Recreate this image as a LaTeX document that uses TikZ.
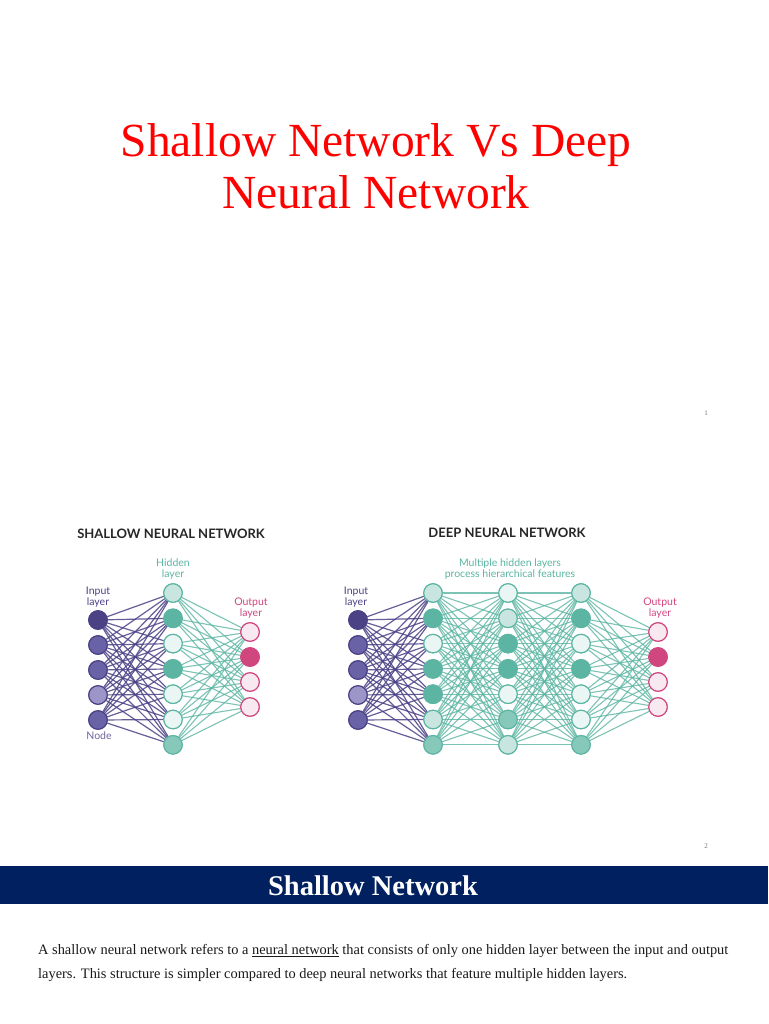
\documentclass[tikz,border=0pt]{standalone}
\usepackage{fontspec}
\setmainfont{Liberation Serif}
\newfontfamily\lab{Lato}
\begin{document}
\begin{tikzpicture}[x=1pt,y=-1pt]
\definecolor{pdark}{HTML}{4B4286}
\definecolor{pmid}{HTML}{6A62A6}
\definecolor{plight}{HTML}{9C96C8}
\definecolor{tmain}{HTML}{5BB5A2}
\definecolor{tmid}{HTML}{86C9BA}
\definecolor{tlight}{HTML}{C8E6DF}
\definecolor{tpale}{HTML}{EAF6F3}
\definecolor{pink}{HTML}{D0467F}
\definecolor{pinkpale}{HTML}{F8E8EF}
\definecolor{navy}{HTML}{002060}
\tikzset{
 nd/.style={circle,minimum size=18.5pt,inner sep=0pt,line width=1.1pt},
 inn/.style={nd,draw=pdark,fill=#1},
 hid/.style={nd,draw=tmain,fill=#1},
 outn/.style={nd,draw=pink,fill=#1},
 pedge/.style={pdark,line width=1.2pt,opacity=0.85},
 tedge/.style={tmain,line width=1.1pt,opacity=0.8},
 lbl/.style={font=\lab\fontsize{10.5}{11.5}\selectfont,align=center},
 ttl/.style={font=\lab\bfseries\fontsize{13}{15}\selectfont,text=black!85}
}
\useasboundingbox (0,0) rectangle (768,1024);
\fill[white] (0,0) rectangle (768,1024);
% title
\node[text=red,font=\fontsize{47.5}{52}\selectfont,align=center] (title) at (376,166) {Shallow Network Vs Deep\\Neural Network};
\node[text=black!55,font=\fontsize{7}{8}\selectfont] (p1) at (706,413) {1};
\node[text=black!55,font=\fontsize{7}{8}\selectfont] (p2) at (706,846) {2};
% shallow nodes
\foreach \c [count=\i] in {pdark,pmid,pmid,plight,pmid}
  \node[inn=\c] (si\i) at (98,595+25*\i) {};
\foreach \c [count=\i] in {tlight,tmain,tpale,tmain,tpale,tpale,tmid}
  \node[hid=\c] (sh\i) at (173,567.7+25.3*\i) {};
\foreach \c [count=\i] in {pinkpale,pink,pinkpale,pinkpale}
  \node[outn=\c] (so\i) at (250,607+25*\i) {};
% deep nodes
\foreach \c [count=\i] in {pdark,pmid,pmid,plight,pmid}
  \node[inn=\c] (di\i) at (358,595+25*\i) {};
\foreach \c [count=\i] in {tlight,tmain,tpale,tmain,tmain,tlight,tmid}
  \node[hid=\c] (da\i) at (433,567.7+25.3*\i) {};
\foreach \c [count=\i] in {tpale,tlight,tmain,tmain,tpale,tmid,tlight}
  \node[hid=\c] (db\i) at (508,567.7+25.3*\i) {};
\foreach \c [count=\i] in {tlight,tmain,tpale,tmain,tpale,tpale,tmid}
  \node[hid=\c] (dc\i) at (581,567.7+25.3*\i) {};
\foreach \c [count=\i] in {pinkpale,pink,pinkpale,pinkpale}
  \node[outn=\c] (do\i) at (658,607+25*\i) {};
% edges
\foreach \a in {1,...,5} \foreach \b in {1,...,7} {
  \draw[pedge] (si\a) -- (sh\b);
  \draw[pedge] (di\a) -- (da\b);
}
\foreach \a in {1,...,7} \foreach \b in {1,...,4} {
  \draw[tedge] (sh\a) -- (so\b);
  \draw[tedge] (dc\a) -- (do\b);
}
\foreach \a in {1,...,7} \foreach \b in {1,...,7} {
  \draw[tedge] (da\a) -- (db\b);
  \draw[tedge] (db\a) -- (dc\b);
}
% redraw nodes on top
\foreach \c [count=\i] in {pdark,pmid,pmid,plight,pmid}
  \node[inn=\c] at (si\i) {};
\foreach \c [count=\i] in {tlight,tmain,tpale,tmain,tpale,tpale,tmid}
  \node[hid=\c] at (sh\i) {};
\foreach \c [count=\i] in {pinkpale,pink,pinkpale,pinkpale}
  \node[outn=\c] at (so\i) {};
\foreach \c [count=\i] in {pdark,pmid,pmid,plight,pmid}
  \node[inn=\c] at (di\i) {};
\foreach \c [count=\i] in {tlight,tmain,tpale,tmain,tmain,tlight,tmid}
  \node[hid=\c] at (da\i) {};
\foreach \c [count=\i] in {tpale,tlight,tmain,tmain,tpale,tmid,tlight}
  \node[hid=\c] at (db\i) {};
\foreach \c [count=\i] in {tlight,tmain,tpale,tmain,tpale,tpale,tmid}
  \node[hid=\c] at (dc\i) {};
\foreach \c [count=\i] in {pinkpale,pink,pinkpale,pinkpale}
  \node[outn=\c] at (do\i) {};
% labels
\node[ttl] (st) at (171,534) {SHALLOW NEURAL NETWORK};
\node[ttl] (dt) at (507,533) {DEEP NEURAL NETWORK};
\node[lbl,text=tmain] (shl) at (173,569) {Hidden\\layer};
\node[lbl,text=pdark] (sil) at (98,597) {Input\\layer};
\node[lbl,text=pink] (sol) at (251,608) {Output\\layer};
\node[lbl,text=pdark!80] (snode) at (99,736) {Node};
\node[lbl,text=tmain] (dhl) at (510,569) {Multiple hidden layers\\process hierarchical features};
\node[lbl,text=pdark] (dil) at (356,597) {Input\\layer};
\node[lbl,text=pink] (dol) at (660,608) {Output\\layer};
% bar
\fill[navy] (0,866) rectangle (768,904);
\node[text=white,font=\bfseries\fontsize{28.5}{30}\selectfont] (bar) at (373,886) {Shallow Network};
\node[anchor=west,inner sep=0pt,font=\fontsize{14.4}{16}\selectfont,text=black!90] (l1) at (38,951) {A shallow neural network refers to a \underline{neural network} that consists of only one hidden layer between the input and output};
\node[anchor=west,inner sep=0pt,font=\fontsize{14.4}{16}\selectfont,text=black!90] (l2) at (38,975) {layers. This structure is simpler compared to deep neural networks that feature multiple hidden layers.};
\end{tikzpicture}
\end{document}
